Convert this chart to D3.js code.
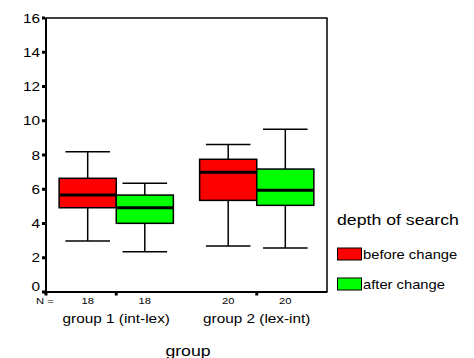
<!DOCTYPE html>
<html><head><meta charset="utf-8">
<script src="https://cdn.jsdelivr.net/npm/d3@7"></script>
<style>
html,body{margin:0;padding:0;background:#fff;}
svg{display:block;font-family:"Liberation Sans",Arial,sans-serif;}
</style></head>
<body><svg id="c" width="474" height="358"></svg>
<script>
const groups = ["group 1 (int-lex)", "group 2 (lex-int)"];
const series = ["before change", "after change"];
const colors = ["#ff0000", "#00ff00"];
const counts = { "before change": [18, 20], "after change": [18, 20] };
const whiskerLow  = { "before change": [2.98, 2.69], "after change": [2.35, 2.57] };
const q1          = { "before change": [4.92, 5.35], "after change": [4.01, 5.06] };
const median      = { "before change": [5.66, 6.99], "after change": [4.92, 5.94] };
const q3          = { "before change": [6.64, 7.75], "after change": [5.66, 7.18] };
const whiskerHigh = { "before change": [8.19, 8.62], "after change": [6.35, 9.50] };
const yTicks = [0, 2, 4, 6, 8, 10, 12, 14, 16];
const legendTitle = "depth of search";
const xTitle = "group";

const svg = d3.select("#c");
const SX = 1.18; // horizontal text stretch of the original picture
function txt(g, x, y, s, size, anchor) {
  return g.append("text").attr("transform", `translate(${x},${y}) scale(${SX},1)`)
    .attr("font-size", size).attr("text-anchor", anchor || "start").attr("fill", "#000").text(s);
}

const L = 46, R = 327, T = 18, B = 292;
const y = d3.scaleLinear().domain([0, 16]).range([B, T]);
const x = d3.scaleBand().domain(groups).range([L, R]).paddingInner(0).paddingOuter(0);
const xs = d3.scaleBand().domain(series).range([0, x.bandwidth()]).paddingInner(0).paddingOuter(0.23);
const color = d3.scaleOrdinal().domain(series).range(colors);

// frame
svg.append("line").attr("x1", L).attr("x2", R + 0.5).attr("y1", T).attr("y2", T).attr("stroke", "#000").attr("stroke-width", 1.5);
svg.append("line").attr("x1", R).attr("x2", R).attr("y1", T).attr("y2", B).attr("stroke", "#000").attr("stroke-width", 1.5);
svg.append("line").attr("x1", L).attr("x2", R + 0.5).attr("y1", B).attr("y2", B).attr("stroke", "#000").attr("stroke-width", 2);
svg.append("line").attr("x1", L).attr("x2", L).attr("y1", T - 0.5).attr("y2", B + 1).attr("stroke", "#000").attr("stroke-width", 2);

// y axis ticks and labels
const yg = svg.append("g");
yTicks.forEach(v => {
  yg.append("rect").attr("x", L - 4).attr("y", y(v) - 1.5).attr("width", 3).attr("height", 3).attr("fill", "#000");
  txt(yg, 40, y(v) + (v === 0 ? -1.5 : 4.5), v, 13, "end");
});

// x axis ticks: at the axis origin and at each group centre
[L].concat(groups.map(g => x(g) + x.bandwidth() / 2)).forEach(v => {
  svg.append("rect").attr("x", v - 1.5).attr("y", B + 0.5).attr("width", 3).attr("height", 3).attr("fill", "#000");
});

// boxes
groups.forEach((g, gi) => {
  series.forEach(s => {
    const x0 = x(g) + xs(s), w = xs.bandwidth(), cx = x0 + w / 2, cw = w * 0.78;
    const bg = svg.append("g");
    bg.append("line").attr("x1", cx).attr("x2", cx).attr("y1", y(whiskerHigh[s][gi])).attr("y2", y(q3[s][gi])).attr("stroke", "#000").attr("stroke-width", 1.5);
    bg.append("line").attr("x1", cx).attr("x2", cx).attr("y1", y(q1[s][gi])).attr("y2", y(whiskerLow[s][gi])).attr("stroke", "#000").attr("stroke-width", 1.5);
    bg.append("line").attr("x1", cx - cw / 2).attr("x2", cx + cw / 2).attr("y1", y(whiskerHigh[s][gi])).attr("y2", y(whiskerHigh[s][gi])).attr("stroke", "#000").attr("stroke-width", 1.5);
    bg.append("line").attr("x1", cx - cw / 2).attr("x2", cx + cw / 2).attr("y1", y(whiskerLow[s][gi])).attr("y2", y(whiskerLow[s][gi])).attr("stroke", "#000").attr("stroke-width", 1.5);
    bg.append("rect").attr("x", x0).attr("y", y(q3[s][gi])).attr("width", w).attr("height", y(q1[s][gi]) - y(q3[s][gi]))
      .attr("fill", color(s)).attr("stroke", "#000").attr("stroke-width", 1.5);
    bg.append("line").attr("x1", x0).attr("x2", x0 + w).attr("y1", y(median[s][gi])).attr("y2", y(median[s][gi])).attr("stroke", "#000").attr("stroke-width", 3);
    txt(svg, cx, 304, counts[s][gi], 9.5, "middle");
  });
  txt(svg, x(g) + x.bandwidth() / 2, 323, g, 13, "middle");
});
txt(svg, 36, 304, "N =", 9.5, "start");
txt(svg, 188, 356, xTitle, 15, "middle");

// legend
const lg = svg.append("g");
txt(lg, 337, 225, legendTitle, 15, "start");
series.forEach((s, i) => {
  const yy = 248 + i * 30;
  lg.append("rect").attr("x", 337.5).attr("y", yy).attr("width", 24).attr("height", 12).attr("fill", color(s)).attr("stroke", "#000").attr("stroke-width", 1);
  txt(lg, 363, yy + 11, s, 12.5, "start");
});
</script></body></html>
